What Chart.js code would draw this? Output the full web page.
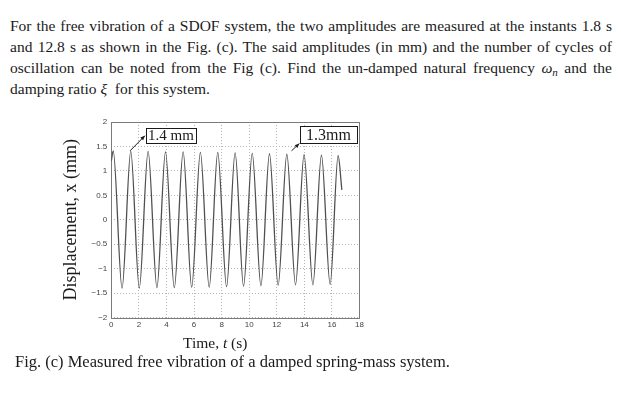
<!DOCTYPE html>
<html>
<head>
<meta charset="utf-8">
<script src="https://cdn.jsdelivr.net/npm/chart.js@4.4.1/dist/chart.umd.min.js"></script>
<style>
    html, body { margin: 0; padding: 0; background: #fff; }
    body {
        width: 621px; height: 395px; position: relative; overflow: hidden;
        font-family: "Liberation Serif", "Times New Roman", serif; color: #1a1a1a;
    }
    .question { position: absolute; left: 10px; top: 14.5px; width: 602px; font-size: 15.5px; line-height: 21px; }
    .question .row { text-align: justify; text-align-last: justify; }
    .question .row.last { text-align: left; text-align-last: left; }
    .math { font-style: italic; }
    .math sub { font-size: 11px; vertical-align: -3px; line-height: 0; }
    #chartBox { position: absolute; left: 0; top: 100px; width: 400px; height: 240px; }
    .xTitle { position: absolute; left: 183px; top: 335px; font-size: 15.5px; line-height: 15.5px; white-space: nowrap; }
    .caption { position: absolute; left: 15px; top: 354px; font-size: 16.5px; line-height: 16.5px; white-space: nowrap; }
</style>
</head>
<body>

<div class="question">
    <div class="row">For the free vibration of a SDOF system, the two amplitudes are measured at the instants 1.8 s</div>
    <div class="row">and 12.8 s as shown in the Fig. (c). The said amplitudes (in mm) and the number of cycles of</div>
    <div class="row">oscillation can be noted from the Fig (c). Find the un-damped natural frequency <span class="math">ω<sub>n</sub></span> and the</div>
    <div class="row last">damping ratio <span class="math">ξ</span>&nbsp; for this system.</div>
</div>

<div id="chartBox"><canvas id="vibChart" width="400" height="240"></canvas></div>

<div class="xTitle">Time, <i>t</i> (s)</div>
<div class="caption">Fig. (c) Measured free vibration of a damped spring-mass system.</div>

<script>
// === DATA (peaks and troughs of the record) ===
const timeS = [
    0, 0.14, 0.78, 1.41, 2.03, 2.67, 3.31, 3.93, 4.57, 5.21, 5.83, 6.46, 7.10, 7.72, 8.36,
    8.98, 9.59, 10.22, 10.85, 11.47, 12.10, 12.73, 13.36, 13.98, 14.62, 15.24, 15.87, 16.45, 16.72,
];
const displacementMm = [
    1.20, 1.41, -1.40, 1.40, -1.40, 1.40, -1.39, 1.39, -1.39, 1.39, -1.38, 1.38, -1.38, 1.38, -1.37,
    1.37, -1.36, 1.36, -1.35, 1.35, -1.34, 1.34, -1.33, 1.33, -1.33, 1.32, -1.32, 1.31, 0.61,
];
const xTickValues = [0, 2, 4, 6, 8, 10, 12, 14, 16, 18];
const yTickValues = [-2, -1.5, -1, -0.5, 0, 0.5, 1, 1.5, 2];
const noteTexts   = ['1.4 mm', '1.3mm'];

const COLORS = {
    line:  '#505050',
    grid:  '#b4b4b4',
    frame: '#7a7a7a',
    tick:  '#444444',
    ink:   '#1a1a1a',
};

// === PLUGINS ===
const framePlugin = {
    id: 'frame',
    beforeDatasetsDraw(chart) {
        const { ctx, chartArea: a } = chart;
        ctx.save();
        ctx.strokeStyle = COLORS.frame;
        ctx.lineWidth = 1;
        ctx.strokeRect(Math.round(a.left) + 0.5, Math.round(a.top) + 0.5,
                       Math.round(a.right - a.left), Math.round(a.bottom - a.top));
        ctx.restore();
    },
};

function drawArrow(ctx, x1, y1, x2, y2) {
    const ang = Math.atan2(y2 - y1, x2 - x1);
    ctx.beginPath();
    ctx.moveTo(x1, y1);
    ctx.lineTo(x2, y2);
    ctx.stroke();
    ctx.beginPath();
    ctx.moveTo(x2, y2);
    ctx.lineTo(x2 - 5 * Math.cos(ang - 0.4), y2 - 5 * Math.sin(ang - 0.4));
    ctx.lineTo(x2 - 5 * Math.cos(ang + 0.4), y2 - 5 * Math.sin(ang + 0.4));
    ctx.closePath();
    ctx.fill();
}

const calloutPlugin = {
    id: 'callouts',
    afterDatasetsDraw(chart, args, opts) {
        const { ctx, scales: { x, y } } = chart;
        ctx.save();
        opts.items.forEach((item, i) => {
            const left   = Math.round(x.getPixelForValue(item.box[0]));
            const right  = Math.round(x.getPixelForValue(item.box[1]));
            const top    = Math.round(y.getPixelForValue(item.box[2]));
            const bottom = Math.round(y.getPixelForValue(item.box[3]));

            ctx.strokeStyle = COLORS.ink;
            ctx.fillStyle   = COLORS.ink;
            ctx.lineWidth   = 1;
            drawArrow(ctx,
                x.getPixelForValue(item.arrow[0]), y.getPixelForValue(item.arrow[1]),
                x.getPixelForValue(item.arrow[2]), y.getPixelForValue(item.arrow[3]));

            ctx.fillStyle = '#fff';
            ctx.fillRect(left, top, right - left, bottom - top);
            ctx.strokeStyle = COLORS.ink;
            ctx.strokeRect(left + 0.5, top + 0.5, right - left, bottom - top);

            ctx.fillStyle    = COLORS.ink;
            ctx.font         = item.font;
            ctx.textAlign    = 'center';
            ctx.textBaseline = 'middle';
            ctx.fillText(noteTexts[i], (left + right) / 2, (top + bottom) / 2 + 1);
        });
        ctx.restore();
    },
};

// === CHART ===
const tickFont = { family: '"Liberation Sans", Arial, sans-serif', size: 8 };

new Chart(document.getElementById('vibChart').getContext('2d'), {
    type: 'line',
    data: {
        datasets: [{
            label: 'Displacement',
            data: timeS.map((t, i) => ({ x: t, y: displacementMm[i] })),
            borderColor: COLORS.line,
            borderWidth: 1.3,
            pointRadius: 0,
            fill: false,
            cubicInterpolationMode: 'monotone',
        }],
    },
    options: {
        responsive: false,
        animation: false,
        events: [],
        layout: { padding: { left: 0, top: 22, right: 40.5, bottom: 0 } },
        plugins: {
            legend:  { display: false },
            tooltip: { enabled: false },
            callouts: {
                items: [
                    { box: [2.52, 6.14, 1.875, 1.568], arrow: [1.36, 1.41, 2.44, 1.72], font: '15px "Liberation Serif", serif' },
                    { box: [13.68, 17.80, 1.916, 1.570], arrow: [13.07, 1.41, 13.64, 1.56], font: '16px "Liberation Serif", serif' },
                ],
            },
        },
        scales: {
            x: {
                type: 'linear',
                min: 0,
                max: 18,
                afterBuildTicks: s => { s.ticks = xTickValues.map(v => ({ value: v })); },
                afterFit: s => { s.height = 22.5; },
                grid:   { color: COLORS.grid, drawTicks: false },
                border: { display: false, dash: [1, 2] },
                ticks:  { color: COLORS.tick, font: tickFont, padding: 2, maxRotation: 0, autoSkip: false },
            },
            y: {
                type: 'linear',
                min: -2,
                max: 2,
                afterBuildTicks: s => { s.ticks = yTickValues.map(v => ({ value: v })); },
                afterFit: s => { s.width = 111.3; },
                grid:   { color: COLORS.grid, drawTicks: false },
                border: { display: false, dash: [1, 2] },
                ticks:  {
                    color: COLORS.tick, font: tickFont, padding: 4, autoSkip: false,
                    callback: v => String(v).replace('-', '\u2212'),
                },
                title: {
                    display: true,
                    text: 'Displacement, x (mm)',
                    color: COLORS.ink,
                    font: { family: '"Liberation Serif", serif', size: 18 },
                    padding: { top: 60.5, bottom: 0 },
                },
            },
        },
    },
    plugins: [framePlugin, calloutPlugin],
});
</script>
</body>
</html>
